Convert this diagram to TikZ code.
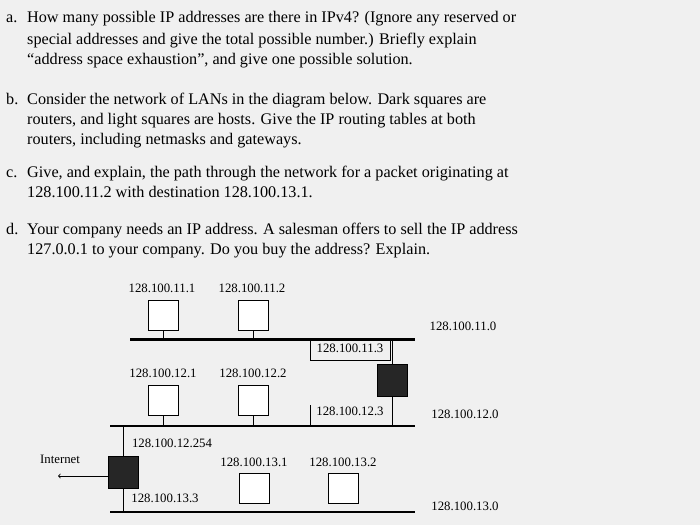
\documentclass[tikz,border=0pt]{standalone}
\usepackage{fontspec}
\setmainfont{Liberation Serif}
\begin{document}
\begin{tikzpicture}[x=1pt,y=-1pt,
  q/.style={anchor=base west,inner sep=0,font=\fontsize{16.2}{18}\selectfont},
  lab/.style={anchor=center,inner sep=0,font=\fontsize{12.8}{14}\selectfont},
  host/.style={draw,line width=1pt,minimum width=30pt,minimum height=30pt,inner sep=0,fill=white},
  router/.style={draw,fill=black!85,minimum width=30pt,minimum height=32pt,inner sep=0},
  net/.style={line width=1.2pt}]
\useasboundingbox[fill=black!6] (0,0) rectangle (700,525);
% questions
\node[q] (a0) at (6,22) {a.};
\node[q] (a1) at (27,22) {How many possible IP addresses are there in IPv4? (Ignore any reserved or};
\node[q] (a2) at (27,44) {special addresses and give the total possible number.) Briefly explain};
\node[q] (a3) at (27,64) {“address space exhaustion”, and give one possible solution.};
\node[q] (b0) at (6,104) {b.};
\node[q] (b1) at (27,104) {Consider the network of LANs in the diagram below. Dark squares are};
\node[q] (b2) at (27,124) {routers, and light squares are hosts. Give the IP routing tables at both};
\node[q] (b3) at (27,144) {routers, including netmasks and gateways.};
\node[q] (c0) at (6,177) {c.};
\node[q] (c1) at (27,177) {Give, and explain, the path through the network for a packet originating at};
\node[q] (c2) at (27,197) {128.100.11.2 with destination 128.100.13.1.};
\node[q] (d0) at (6,234) {d.};
\node[q] (d1) at (27,234) {Your company needs an IP address. A salesman offers to sell the IP address};
\node[q] (d2) at (27,254) {127.0.0.1 to your company. Do you buy the address? Explain.};
% LAN 11
\node[lab] (l111) at (162,288) {128.100.11.1};
\node[lab] (l112) at (252,288) {128.100.11.2};
\node[host] (h111) at (163,315) {};
\node[host] (h112) at (253,315) {};
\coordinate (n11a) at (130,339);
\coordinate (n11b) at (415,339);
\draw[line width=3pt] (n11a) -- (n11b);
\draw[line width=1pt] (h111.south) -- (h111.south |- n11a);
\draw[line width=1pt] (h112.south) -- (h112.south |- n11a);
\node[lab] (n110) at (463,326) {128.100.11.0};
\node[lab] (l113) at (350,348) {128.100.11.3};
\draw[line width=0.6pt] (310,339) -- (310,360) -- (390,360) -- (390,339);
% router right
\node[router] (r1) at (392,380) {};
\draw[line width=1pt] (r1.north) -- (r1.north |- n11a);
% LAN 12
\node[lab] (l121) at (163,373) {128.100.12.1};
\node[lab] (l122) at (253,373) {128.100.12.2};
\node[host] (h121) at (163,400) {};
\node[host] (h122) at (253,400) {};
\coordinate (n12a) at (110,426);
\coordinate (n12b) at (415,426);
\draw[net] (n12a) -- (n12b);
\draw[line width=1pt] (h121.south) -- (h121.south |- n12a);
\draw[line width=1pt] (h122.south) -- (h122.south |- n12a);
\draw[line width=1pt] (r1.south) -- (r1.south |- n12a);
\node[lab] (l123) at (350,411) {128.100.12.3};
\draw[line width=0.6pt] (310,405) -- (310,426);
\node[lab] (n120) at (465,414) {128.100.12.0};
% router left
\node[lab] (l1254) at (172,443) {128.100.12.254};
\node[router] (r2) at (123,472) {};
\draw[line width=1pt] (r2.north) -- (r2.north |- n12a);
\node[lab] (inet) at (60,459) {Internet};
\coordinate (ia) at (58,476);
\draw[line width=0.8pt,->] (r2.west |- ia) -- (ia);
% LAN 13
\node[lab] (l131) at (254,462) {128.100.13.1};
\node[lab] (l132) at (343,462) {128.100.13.2};
\node[host] (h131) at (254,488) {};
\node[host] (h132) at (343,488) {};
\coordinate (n13a) at (110,512);
\coordinate (n13b) at (415,512);
\draw[net] (n13a) -- (n13b);
\draw[line width=1pt] (r2.south) -- (r2.south |- n13a);
\node[lab] (l133) at (165,498) {128.100.13.3};
\node[lab] (n130) at (465,506) {128.100.13.0};
\end{tikzpicture}
\end{document}
